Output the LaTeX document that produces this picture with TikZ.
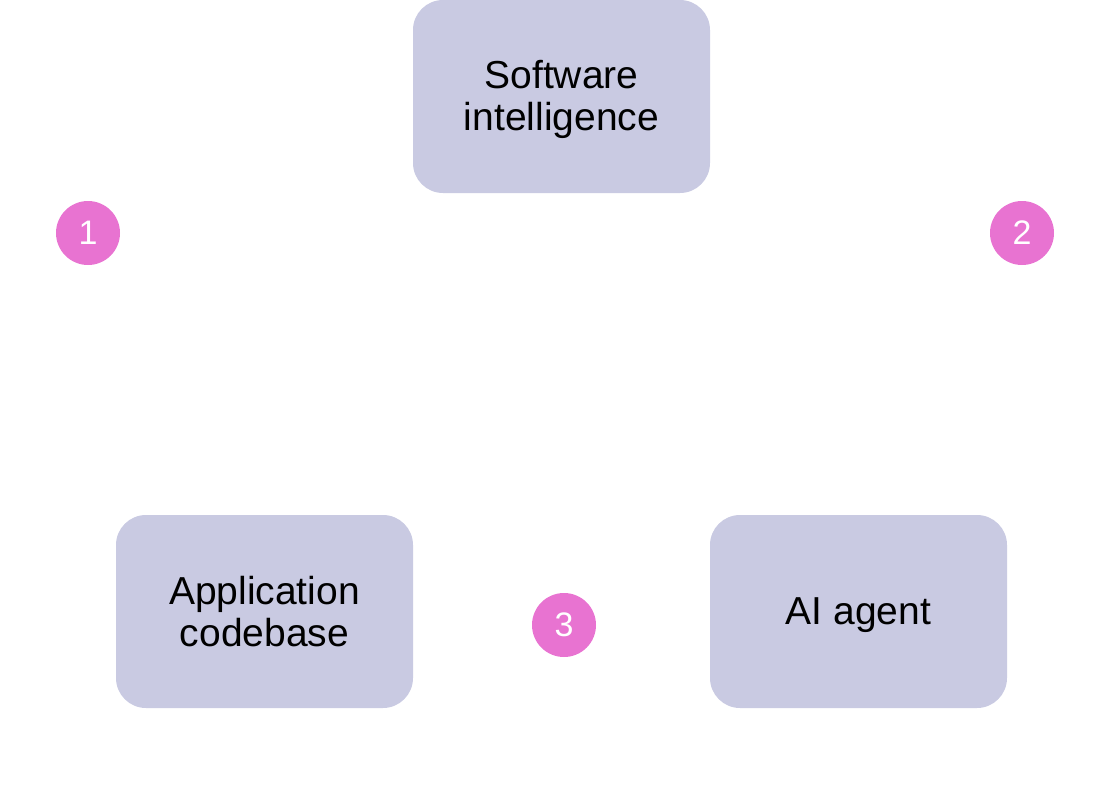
\documentclass[tikz,border=0pt]{standalone}
\usepackage{fontspec}
\setmainfont{Liberation Sans}
\definecolor{boxfill}{HTML}{C9CAE2}
\definecolor{badge}{HTML}{E873D1}
\begin{document}
\begin{tikzpicture}[x=1pt,y=-1pt,
  card/.style={fill=boxfill, draw=none, rounded corners=30pt, minimum width=297pt, minimum height=193pt},
  cardtext/.style={align=center, inner sep=0pt, font=\fontsize{39}{42}\selectfont, text=black},
  badgecirc/.style={circle, fill=badge, draw=none, minimum size=64pt, inner sep=0pt,
    font=\fontsize{34}{40}\selectfont, text=white}]
\useasboundingbox (0,0) rectangle (1098,785);
\node[card] (si) at (561.5,96.5) {};
\node[card] (ac) at (264.5,611.5) {};
\node[card] (ai) at (858.5,611.5) {};
\node[cardtext] (sit) at ([yshift=-3pt]si.center) {Software\\intelligence};
\node[cardtext] (act) at ([yshift=0pt]ac.center) {Application\\codebase};
\node[cardtext] (ait) at ([yshift=-4pt]ai.center) {AI agent};
\node[badgecirc] (b1) at (88,233) {1};
\node[badgecirc] (b2) at (1022,233) {2};
\node[badgecirc] (b3) at (564,625) {3};
\end{tikzpicture}
\end{document}
